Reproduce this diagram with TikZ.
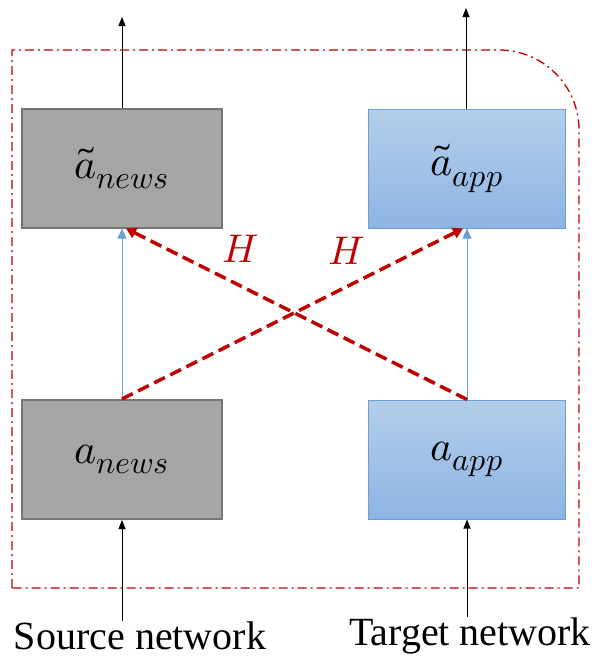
\documentclass[tikz,border=0pt]{standalone}
\usepackage{fontspec}
\usepackage{unicode-math}
\setmainfont{Liberation Serif}
\setmathfont{Latin Modern Math}
\DeclareMathSizes{42}{42}{32}{24}
\usetikzlibrary{arrows.meta}
\definecolor{framered}{HTML}{C00000}
\definecolor{boxgray}{HTML}{A6A6A6}
\definecolor{graydraw}{HTML}{767676}
\definecolor{bluetop}{HTML}{B4CEEA}
\definecolor{bluebot}{HTML}{8EB4E3}
\definecolor{bluedraw}{HTML}{6A9FD4}
\begin{document}
\begin{tikzpicture}[x=1pt, y=-1pt,
  graybox/.style={draw=graydraw, line width=2pt, fill=boxgray, minimum width=200pt, minimum height=119pt, font=\fontsize{42}{48}\selectfont},
  bluebox/.style={draw=bluedraw, line width=1pt, top color=bluetop, bottom color=bluebot, minimum width=197pt, minimum height=119pt, font=\fontsize{42}{48}\selectfont},
  netlabel/.style={font=\fontsize{40}{46}\selectfont, inner sep=1pt},
  flow/.style={-{Triangle[width=7pt,length=9pt]}, line width=0.8pt},
  skip/.style={-{Triangle[width=9pt,length=10pt]}, draw=bluedraw, line width=0.7pt},
  map/.style={-{Triangle[width=11pt,length=10pt]}, draw=framered, line width=3.5pt, dash pattern=on 12pt off 6pt},
  hlabel/.style={text=framered, font=\fontsize{40}{44}\selectfont}]
  \useasboundingbox (0,0) rectangle (596,665);

  \draw[framered, line width=1.3pt, dash pattern=on 9pt off 4pt on 2pt off 4pt]
    (12,588) -- (12,50) -- (499,50) arc[start angle=-90, end angle=0, radius=80] -- (579,588) -- cycle;

  \node[graybox] (tnews) at (122,168) {$\tilde{a}_{news}$};
  \node[bluebox] (tapp) at (467,168.5) {$\tilde{a}_{app}$};
  \node[graybox] (news) at (122,459.5) {$a_{news}$};
  \node[bluebox] (app) at (467,459.5) {$a_{app}$};

  \node[netlabel] (src) at (140,636) {Source network};
  \node[netlabel] (tgt) at (470,636) {Target network};

  \coordinate (outnews) at (122,17);
  \coordinate (outapp) at (466,8);

  \draw[flow] (tnews.north -| outnews) -- (outnews);
  \draw[flow] (tapp.north -| outapp) -- (outapp);
  \draw[flow] (news.south |- src.north) -- (news.south);
  \draw[flow] (app.south |- tgt.north) -- (app.south);

  \draw[skip] (news.north) -- (tnews.south);
  \draw[skip] (app.north) -- (tapp.south);

  \draw[map] (news.north) -- ([xshift=-4pt]tapp.south);
  \draw[map] (app.north) -- ([xshift=4pt]tnews.south);

  \node[hlabel] (h1) at (241,249) {$H$};
  \node[hlabel] (h2) at (347,251) {$H$};
\end{tikzpicture}
\end{document}
